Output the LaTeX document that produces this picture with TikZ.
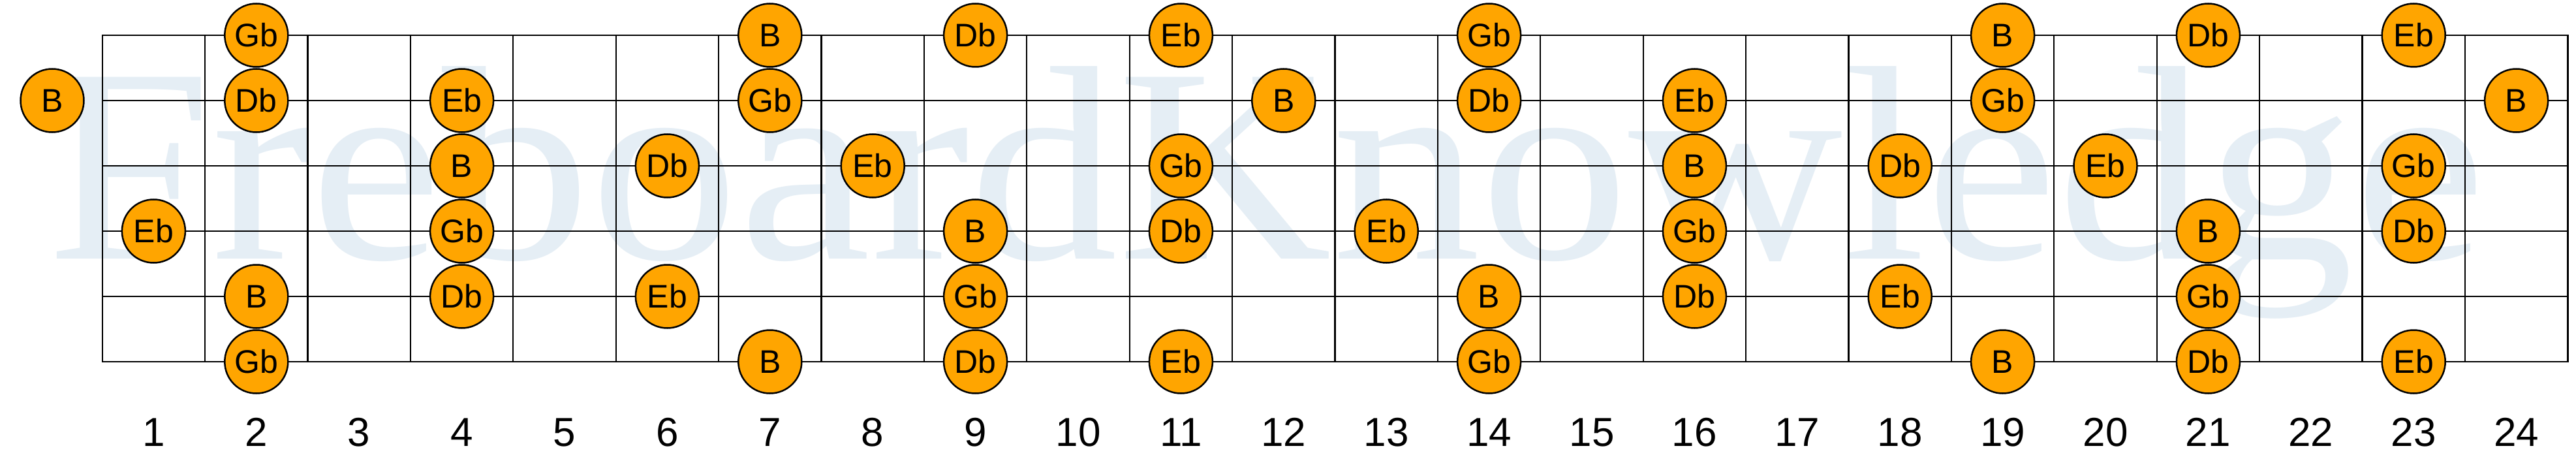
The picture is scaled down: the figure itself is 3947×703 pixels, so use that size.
\documentclass[tikz,border=0pt]{standalone}
\usepackage{fontspec}
\setmainfont{Liberation Sans}
\newfontfamily\wmfont{Liberation Serif}
\definecolor{noteorange}{HTML}{FFA500}
\definecolor{wmblue}{RGB}{229,238,245}
\begin{document}
\begin{tikzpicture}[x=1pt,y=-1pt,
  notecirc/.style={circle, draw=black, fill=noteorange, line width=2.5pt, minimum size=97pt, inner sep=0pt, font=\fontsize{50}{50}\selectfont},
  fretnum/.style={font=\fontsize{62}{62}\selectfont, inner sep=0pt},
  gridline/.style={line width=2.3pt, draw=black, line cap=rect}]
\useasboundingbox (0,0) rectangle (3947,703);
\fill[white] (0,0) rectangle (3947,703);
% watermark
\node[anchor=base west, inner sep=0pt, text=wmblue, font=\wmfont\fontsize{425}{425}\selectfont] (wm) at (71,396) {\scalebox{1.07}[1]{FreboardKnowledge}};
% strings
\foreach \s in {1,...,6} {
  \coordinate (sL\s) at (156.7, {54+100*(\s-1)});
  \coordinate (sR\s) at (3934.3, {54+100*(\s-1)});
  \draw[gridline] (sL\s) -- (sR\s);
}
% frets
\foreach \k in {0,...,24} {
  \coordinate (fT\k) at ({156.7+157.4*\k}, 54);
  \coordinate (fB\k) at ({156.7+157.4*\k}, 554);
  \draw[gridline] (fT\k) -- (fB\k);
}
% notes
\foreach \s/\notes in {
  1/{2/Gb,7/B,9/Db,11/Eb,14/Gb,19/B,21/Db,23/Eb},
  2/{0/B,2/Db,4/Eb,7/Gb,12/B,14/Db,16/Eb,19/Gb,24/B},
  3/{4/B,6/Db,8/Eb,11/Gb,16/B,18/Db,20/Eb,23/Gb},
  4/{1/Eb,4/Gb,9/B,11/Db,13/Eb,16/Gb,21/B,23/Db},
  5/{2/B,4/Db,6/Eb,9/Gb,14/B,16/Db,18/Eb,21/Gb},
  6/{2/Gb,7/B,9/Db,11/Eb,14/Gb,19/B,21/Db,23/Eb}} {
  \foreach \f/\n in \notes {
    \node[notecirc] (n\s-\f) at ({ifthenelse(\f==0,80,156.7+157.4*(\f-0.5))}, {54+100*(\s-1)}) {\n};
  }
}
% fret numbers
\foreach \k in {1,...,24} {
  \node[fretnum] (num\k) at ({156.7+157.4*(\k-0.5)}, 662) {\k};
}
\end{tikzpicture}
\end{document}
